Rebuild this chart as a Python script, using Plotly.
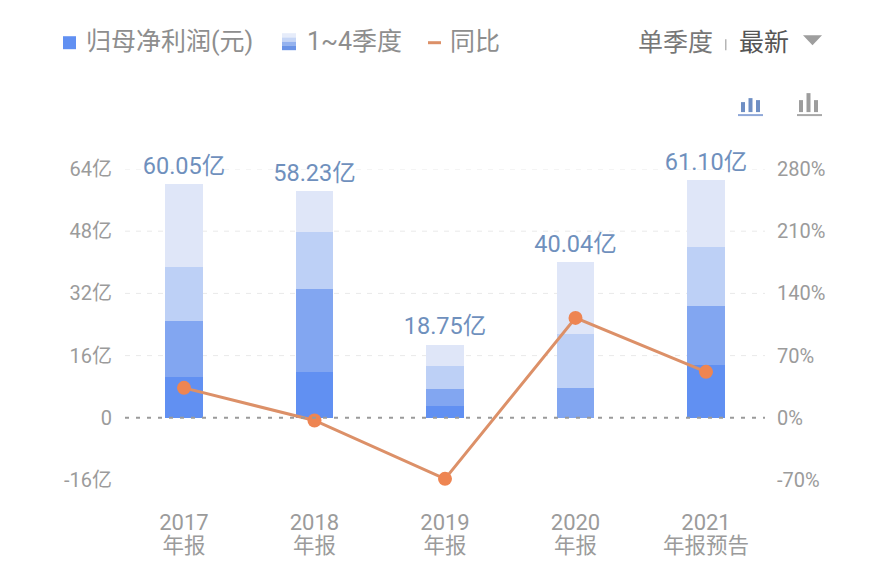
import plotly.graph_objects as go

W, H = 888, 568
FONT = "Roboto, 'Noto Sans CJK SC', sans-serif"

years = ["2017", "2018", "2019", "2020", "2021"]
period_labels = ["年报", "年报", "年报", "年报", "年报预告"]
positions = [0, 1, 2, 3, 4]

# Quarterly net profit in 亿 yuan, stacked to the annual figure
q1 = [10.5, 11.8, 3.1, 0.0, 13.6]
q2 = [14.4, 21.4, 4.4, 7.7, 15.2]
q3 = [13.9, 14.6, 5.9, 13.9, 15.2]
q4 = [21.25, 10.43, 5.35, 18.44, 17.1]
totals = [60.05, 58.23, 18.75, 40.04, 61.10]
total_labels = ["60.05亿", "58.23亿", "18.75亿", "40.04亿", "61.10亿"]

yoy = [33.7, -3.0, -68.7, 112.4, 51.7]

left_ticks = [-16, 0, 16, 32, 48, 64]
left_labels = ["-16亿", "0", "16亿", "32亿", "48亿", "64亿"]
right_ticks = [-70, 0, 70, 140, 210, 280]
right_labels = ["-70%", "0%", "70%", "140%", "210%", "280%"]

quarter_colors = ["#6190f2", "#82a6f1", "#bdd0f6", "#dfe6f8"]
LINE = "#dc9068"
MARK = "#ee8552"
GREY = "#9b9b9b"

# Plot area margins in pixels
L, R, T, B = 125, 123, 169, 87.5
PW, PH = W - L - R, H - T - B


def fx(x):
    return (x - L) / PW


def fy(y):
    return 1 - (y - T) / PH


def rect(x0, y0, x1, y1, color):
    return dict(type="rect", xref="paper", yref="paper", x0=fx(x0), x1=fx(x1),
                y0=fy(y1), y1=fy(y0), fillcolor=color, line_width=0, layer="above")


def label(x, y, text, size, color, anchor="left"):
    return dict(xref="paper", yref="paper", x=fx(x), y=fy(y), text=text, showarrow=False,
                xanchor=anchor, yanchor="middle", font=dict(family=FONT, size=size, color=color))


fig = go.Figure()

for values, color in zip([q1, q2, q3, q4], quarter_colors):
    fig.add_bar(x=positions, y=values, marker=dict(color=color, line_width=0), width=0.29,
                yaxis="y", showlegend=False, hoverinfo="skip")

# Annual totals: the transparent marker lifts each label clear of its bar
fig.add_scatter(x=positions, y=totals, mode="markers+text", text=total_labels,
                textposition="top center", marker=dict(size=6, opacity=0),
                textfont=dict(family=FONT, size=23.5, color="#6f90bd"), yaxis="y",
                cliponaxis=False, showlegend=False, hoverinfo="skip")

fig.add_scatter(x=positions, y=yoy, mode="lines+markers", yaxis="y2", cliponaxis=False,
                line=dict(color=LINE, width=3), marker=dict(color=MARK, size=14, line_width=0),
                showlegend=False, hoverinfo="skip")

shapes = []
# Faint horizontal guides above zero, and a stronger dotted baseline
for tick in left_ticks:
    if tick > 0:
        shapes.append(dict(type="line", xref="paper", yref="y", x0=0, x1=1, y0=tick, y1=tick,
                           line=dict(color="#e9e9e9", width=1, dash="5px,6px"), layer="below"))
shapes.append(dict(type="line", xref="paper", yref="y", x0=0, x1=1, y0=0, y1=0,
                   line=dict(color="#9a9a9a", width=2, dash="4px,7px"), layer="above"))

# Legend swatches
shapes.append(rect(63, 36, 76, 49, "#6190f2"))
for i, color in enumerate(["#e6ecfa", "#c6d6f6", "#94b2ef", "#6a93e6"]):
    shapes.append(rect(282, 33 + i * 4.25, 296, 33 + (i + 1) * 4.25, color))
shapes.append(rect(428, 41, 441, 44, "#dc9068"))

# Header separator and dropdown arrow
shapes.append(rect(725, 39, 726.5, 50, "#b5b5b5"))
shapes.append(dict(type="path", xref="paper", yref="paper", fillcolor="#9e9e9e", line_width=0,
                   path=f"M {fx(803)} {fy(35)} L {fx(822)} {fy(35)} L {fx(812.5)} {fy(45)} Z"))

# Chart-type toggle icons
for x0, tops, color in [(741, (102, 98, 100), "#6f8fc4"), (799, (100, 93, 100), "#9d9d9d")]:
    for i, top in enumerate(tops):
        bx = x0 + i * 7.5
        shapes.append(rect(bx, top, bx + 4, 112, color))
shapes.append(rect(738, 114, 763, 116, "#8fa8d8"))
shapes.append(rect(797, 114, 822, 116, "#a8a8a8"))

annotations = [
    label(84, 41, "归母净利润(元)", 25, "#8e8e8e"),
    label(305, 41, "1~4季度", 25, "#8e8e8e"),
    label(448, 41, "同比", 25, "#8e8e8e"),
    label(636, 42, "单季度", 25, "#777777"),
    label(737, 42, "最新", 25, "#555555"),
]

# Two-line category labels; the small base font sets the tight line spacing
x_labels = [
    f'<span style="font-size:22px">{year}</span><br><span style="font-size:21.5px">{period}</span>'
    for year, period in zip(years, period_labels)
]

fig.update_layout(
    width=W, height=H, autosize=False,
    margin=dict(l=L, r=R, t=T, b=B, pad=0),
    paper_bgcolor="white", plot_bgcolor="white",
    barmode="stack", bargap=0.7,
    shapes=shapes, annotations=annotations,
    xaxis=dict(type="linear", range=[-0.452, 4.452], tickvals=positions, ticktext=x_labels,
               tickfont=dict(family=FONT, size=18, color=GREY), showgrid=False, zeroline=False,
               showline=False, ticks="", ticklabelstandoff=31, automargin=False),
    yaxis=dict(range=[-16, 64], tickvals=left_ticks, ticktext=left_labels, showgrid=False,
               zeroline=False, showline=False, ticks="", ticklabelstandoff=12, automargin=False,
               tickfont=dict(family=FONT, size=20, color=GREY)),
    yaxis2=dict(range=[-70, 280], tickvals=right_ticks, ticktext=right_labels, overlaying="y",
                side="right", showgrid=False, zeroline=False, showline=False, ticks="",
                ticklabelstandoff=11, automargin=False,
                tickfont=dict(family=FONT, size=20, color=GREY)),
)

fig.write_html("out.html", config={"displayModeBar": False})
